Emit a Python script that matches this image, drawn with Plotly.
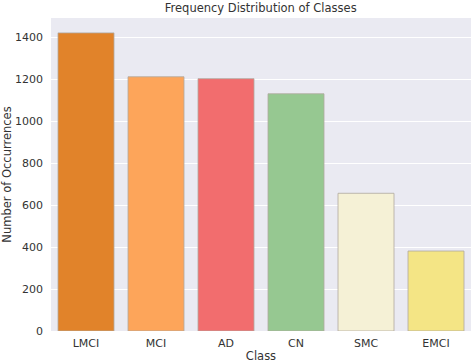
import plotly.graph_objects as go

classes = ["LMCI", "MCI", "AD", "CN", "SMC", "EMCI"]
counts = [1420, 1211, 1202, 1130, 656, 381]
colors = ["#e1832a", "#fda55a", "#f26d6e", "#96c891", "#f5f1d6", "#f4e585"]
yticks = [0, 200, 400, 600, 800, 1000, 1200, 1400]

fig = go.Figure(go.Bar(
    x=classes, y=counts,
    marker=dict(color=colors, line=dict(color="#b0a8a0", width=0.8)),
    width=0.8,
))
fig.update_layout(
    width=474, height=363,
    margin=dict(l=51, r=3, t=18, b=32, autoexpand=False),
    paper_bgcolor="white", plot_bgcolor="#eaeaf2",
    font=dict(family="DejaVu Sans", size=11, color="#333333"),
    title=dict(text="Frequency Distribution of Classes", x=0.55, xanchor="center",
               y=0.99, yanchor="top", font=dict(size=11.5)),
    showlegend=False,
    bargap=0.2,
)
fig.update_xaxes(title=dict(text="Class", standoff=3, font=dict(size=11.5)),
                 showgrid=False, ticks="", range=[-0.5, 5.5], automargin=False,
                 tickfont=dict(size=11), ticklabelstandoff=4)
fig.update_yaxes(title=dict(text="Number of Occurrences", standoff=8, font=dict(size=11.5)),
                 range=[0, 1491], tickvals=yticks, gridcolor="white", gridwidth=1,
                 zeroline=False, ticks="", automargin=False, tickfont=dict(size=11),
                 ticklabelstandoff=7)
fig.write_html("out.html", config={"displayModeBar": False},
               post_script="document.body.style.margin='0';")
